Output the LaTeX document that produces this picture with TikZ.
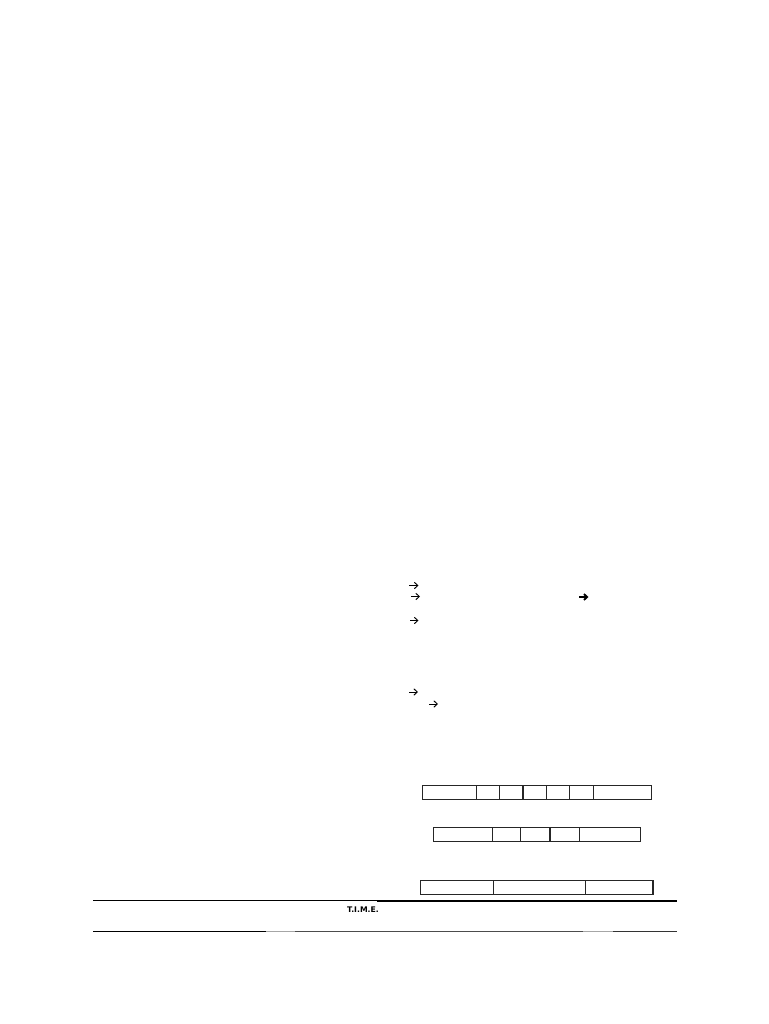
\documentclass[tikz,border=0pt]{standalone}
\usepackage{fontspec}
\usetikzlibrary{arrows.meta}
\newfontfamily\titlefont{DejaVu Sans}
\begin{document}
\begin{tikzpicture}[x=0.75pt,y=-0.75pt,
  cellline/.style={draw=black!85, line width=0.8pt},
  rule/.style={line width=1.1pt},
  tarr/.style={line width=0.7pt, -{Straight Barb[length=2.6pt,width=4.8pt,line width=0.7pt]}},
  barr/.style={line width=1.4pt, -{Straight Barb[length=2.4pt,width=4.4pt,line width=1.4pt]}},
  lbl/.style={font=\titlefont\bfseries\fontsize{5.8pt}{6pt}\selectfont, inner sep=0pt, anchor=center}]
\useasboundingbox[fill=white] (0,0) rectangle (768,1024);
% arrows
\coordinate (a1s) at (409,585.5); \coordinate (a1e) at (418.5,585.5);
\coordinate (a2s) at (411,596.5); \coordinate (a2e) at (420,596.5);
\coordinate (a3s) at (579,597);   \coordinate (a3e) at (588.5,597);
\coordinate (a4s) at (410,620.5); \coordinate (a4e) at (418.5,620.5);
\coordinate (a5s) at (409,692);   \coordinate (a5e) at (418,692);
\coordinate (a6s) at (429,704);   \coordinate (a6e) at (438,704);
\draw[tarr] (a1s) -- (a1e);
\draw[tarr] (a2s) -- (a2e);
\draw[barr] (a3s) -- (a3e);
\draw[tarr] (a4s) -- (a4e);
\draw[tarr] (a5s) -- (a5e);
\draw[tarr] (a6s) -- (a6e);
% row 1
\draw[cellline] (422.3,785.3) rectangle (651.3,799.3);
\foreach \x in {476.3,499.3,523,546.3,569.3,593.3}
  \draw[cellline] (\x,785.3) -- (\x,799.3);
% row 2
\draw[cellline] (433.7,827.3) rectangle (640.3,841.3);
\foreach \x in {492.3,520.7,550,579.3}
  \draw[cellline] (\x,827.3) -- (\x,841.3);
% row 3
\draw[cellline] (420.7,880.7) rectangle (653,894.7);
\foreach \x in {493.3,585.3}
  \draw[cellline] (\x,880.7) -- (\x,894.7);
% rules
\draw[rule] (93,900.5) -- (377,900.5);
\draw[rule] (377,901.2) -- (677,901.2);
\node[lbl] (title) at (363,909.5) {T.I.M.E.};
\draw[rule] (93,931.5) -- (266,931.5);
\draw[rule, black!35] (266,931.5) -- (295,931.5);
\draw[rule, black!70] (295,931.5) -- (583,931.5);
\draw[rule, black!35] (583,931.5) -- (613,931.5);
\draw[rule, black!80] (613,931.5) -- (677,931.5);
\end{tikzpicture}
\end{document}
